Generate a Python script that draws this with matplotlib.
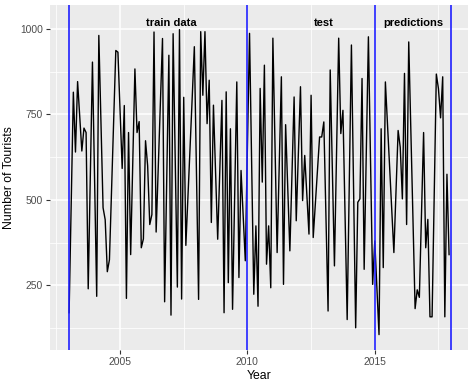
import numpy as np
import matplotlib
matplotlib.use("Agg")
import matplotlib.pyplot as plt
from matplotlib.ticker import FixedLocator

plt.rcParams['font.family'] = ['Liberation Sans', 'DejaVu Sans']

# monthly tourists, Jan 2003 .. Dec 2017 (one row per year)
tourists = [
    170, 490, 815, 640, 846, 745, 643, 710, 697, 240, 570, 903,   # 2003
    560, 218, 981, 730, 477, 442, 290, 325, 530, 735, 937, 932,   # 2004
    760, 592, 776, 212, 697, 340, 610, 883, 697, 729, 360, 386,   # 2005
    673, 600, 428, 457, 991, 406, 595, 785, 972, 202, 560, 923,   # 2006
    163, 986, 615, 245, 998, 210, 800, 367, 510, 655, 800, 948,   # 2007
    580, 209, 992, 806, 992, 723, 850, 434, 777, 580, 385, 590,   # 2008
    791, 170, 816, 258, 708, 180, 510, 845, 273, 586, 455, 322,   # 2009
    655, 987, 605, 224, 424, 189, 826, 552, 894, 312, 424, 243,   # 2010
    973, 660, 346, 600, 860, 253, 720, 540, 351, 575, 801, 439,   # 2011
    635, 831, 498, 630, 515, 400, 806, 390, 488, 586, 684, 684,   # 2012
    728, 450, 175, 880, 595, 307, 640, 973, 694, 762, 455, 150,   # 2013
    550, 953, 540, 126, 493, 503, 855, 297, 637, 977, 615, 253,   # 2014
    380, 240, 106, 708, 302, 845, 720, 595, 470, 346, 525, 703,   # 2015
    654, 503, 870, 428, 962, 700, 440, 182, 237, 215, 455, 697,   # 2016
    360, 443, 158, 158, 515, 868, 825, 740, 860, 158, 575, 340,   # 2017
]
start_year = 2003
split_years = [2003, 2010, 2015, 2018]
section_labels = ["train data", "test", "predictions"]
label_x = [2007.0, 2013.0, 2016.5]
label_y = 1018

years = start_year + np.arange(len(tourists)) / 12.0

fig = plt.figure(figsize=(4.74, 3.87), dpi=100)
ax = fig.add_axes([50 / 474, 37 / 387, 418 / 474, 345 / 387])
ax.set_facecolor("#EBEBEB")
for s in ax.spines.values():
    s.set_visible(False)

ax.set_xlim(2002.25, 2018.66)
ax.set_ylim(61, 1070)

ax.xaxis.set_major_locator(FixedLocator([2005, 2010, 2015]))
ax.xaxis.set_minor_locator(FixedLocator([2002.5, 2007.5, 2012.5, 2017.5]))
ax.yaxis.set_major_locator(FixedLocator([250, 500, 750, 1000]))
ax.yaxis.set_minor_locator(FixedLocator([125, 375, 625, 875]))
ax.grid(which="major", color="white", linewidth=1.1)
ax.grid(which="minor", color="white", linewidth=0.55)
ax.set_axisbelow(True)
ax.tick_params(which="major", length=3, width=0.8, color="#333333",
               labelsize=7.4, labelcolor="#4D4D4D", pad=2)
ax.tick_params(which="minor", length=0)

ax.plot(years, tourists, color="black", linewidth=1.0, zorder=3)

for yr in split_years:
    ax.axvline(yr, color="#2020FF", linewidth=1.2, zorder=4)

for txt, lx in zip(section_labels, label_x):
    ax.text(lx, label_y, txt, ha="center", va="center", fontsize=8,
            fontweight="bold", color="black", zorder=5)

ax.set_xlabel("Year", fontsize=8.8, labelpad=2)
ax.set_ylabel("Number of Tourists", fontsize=8.8, labelpad=4)

fig.savefig("out.png", dpi=100)
